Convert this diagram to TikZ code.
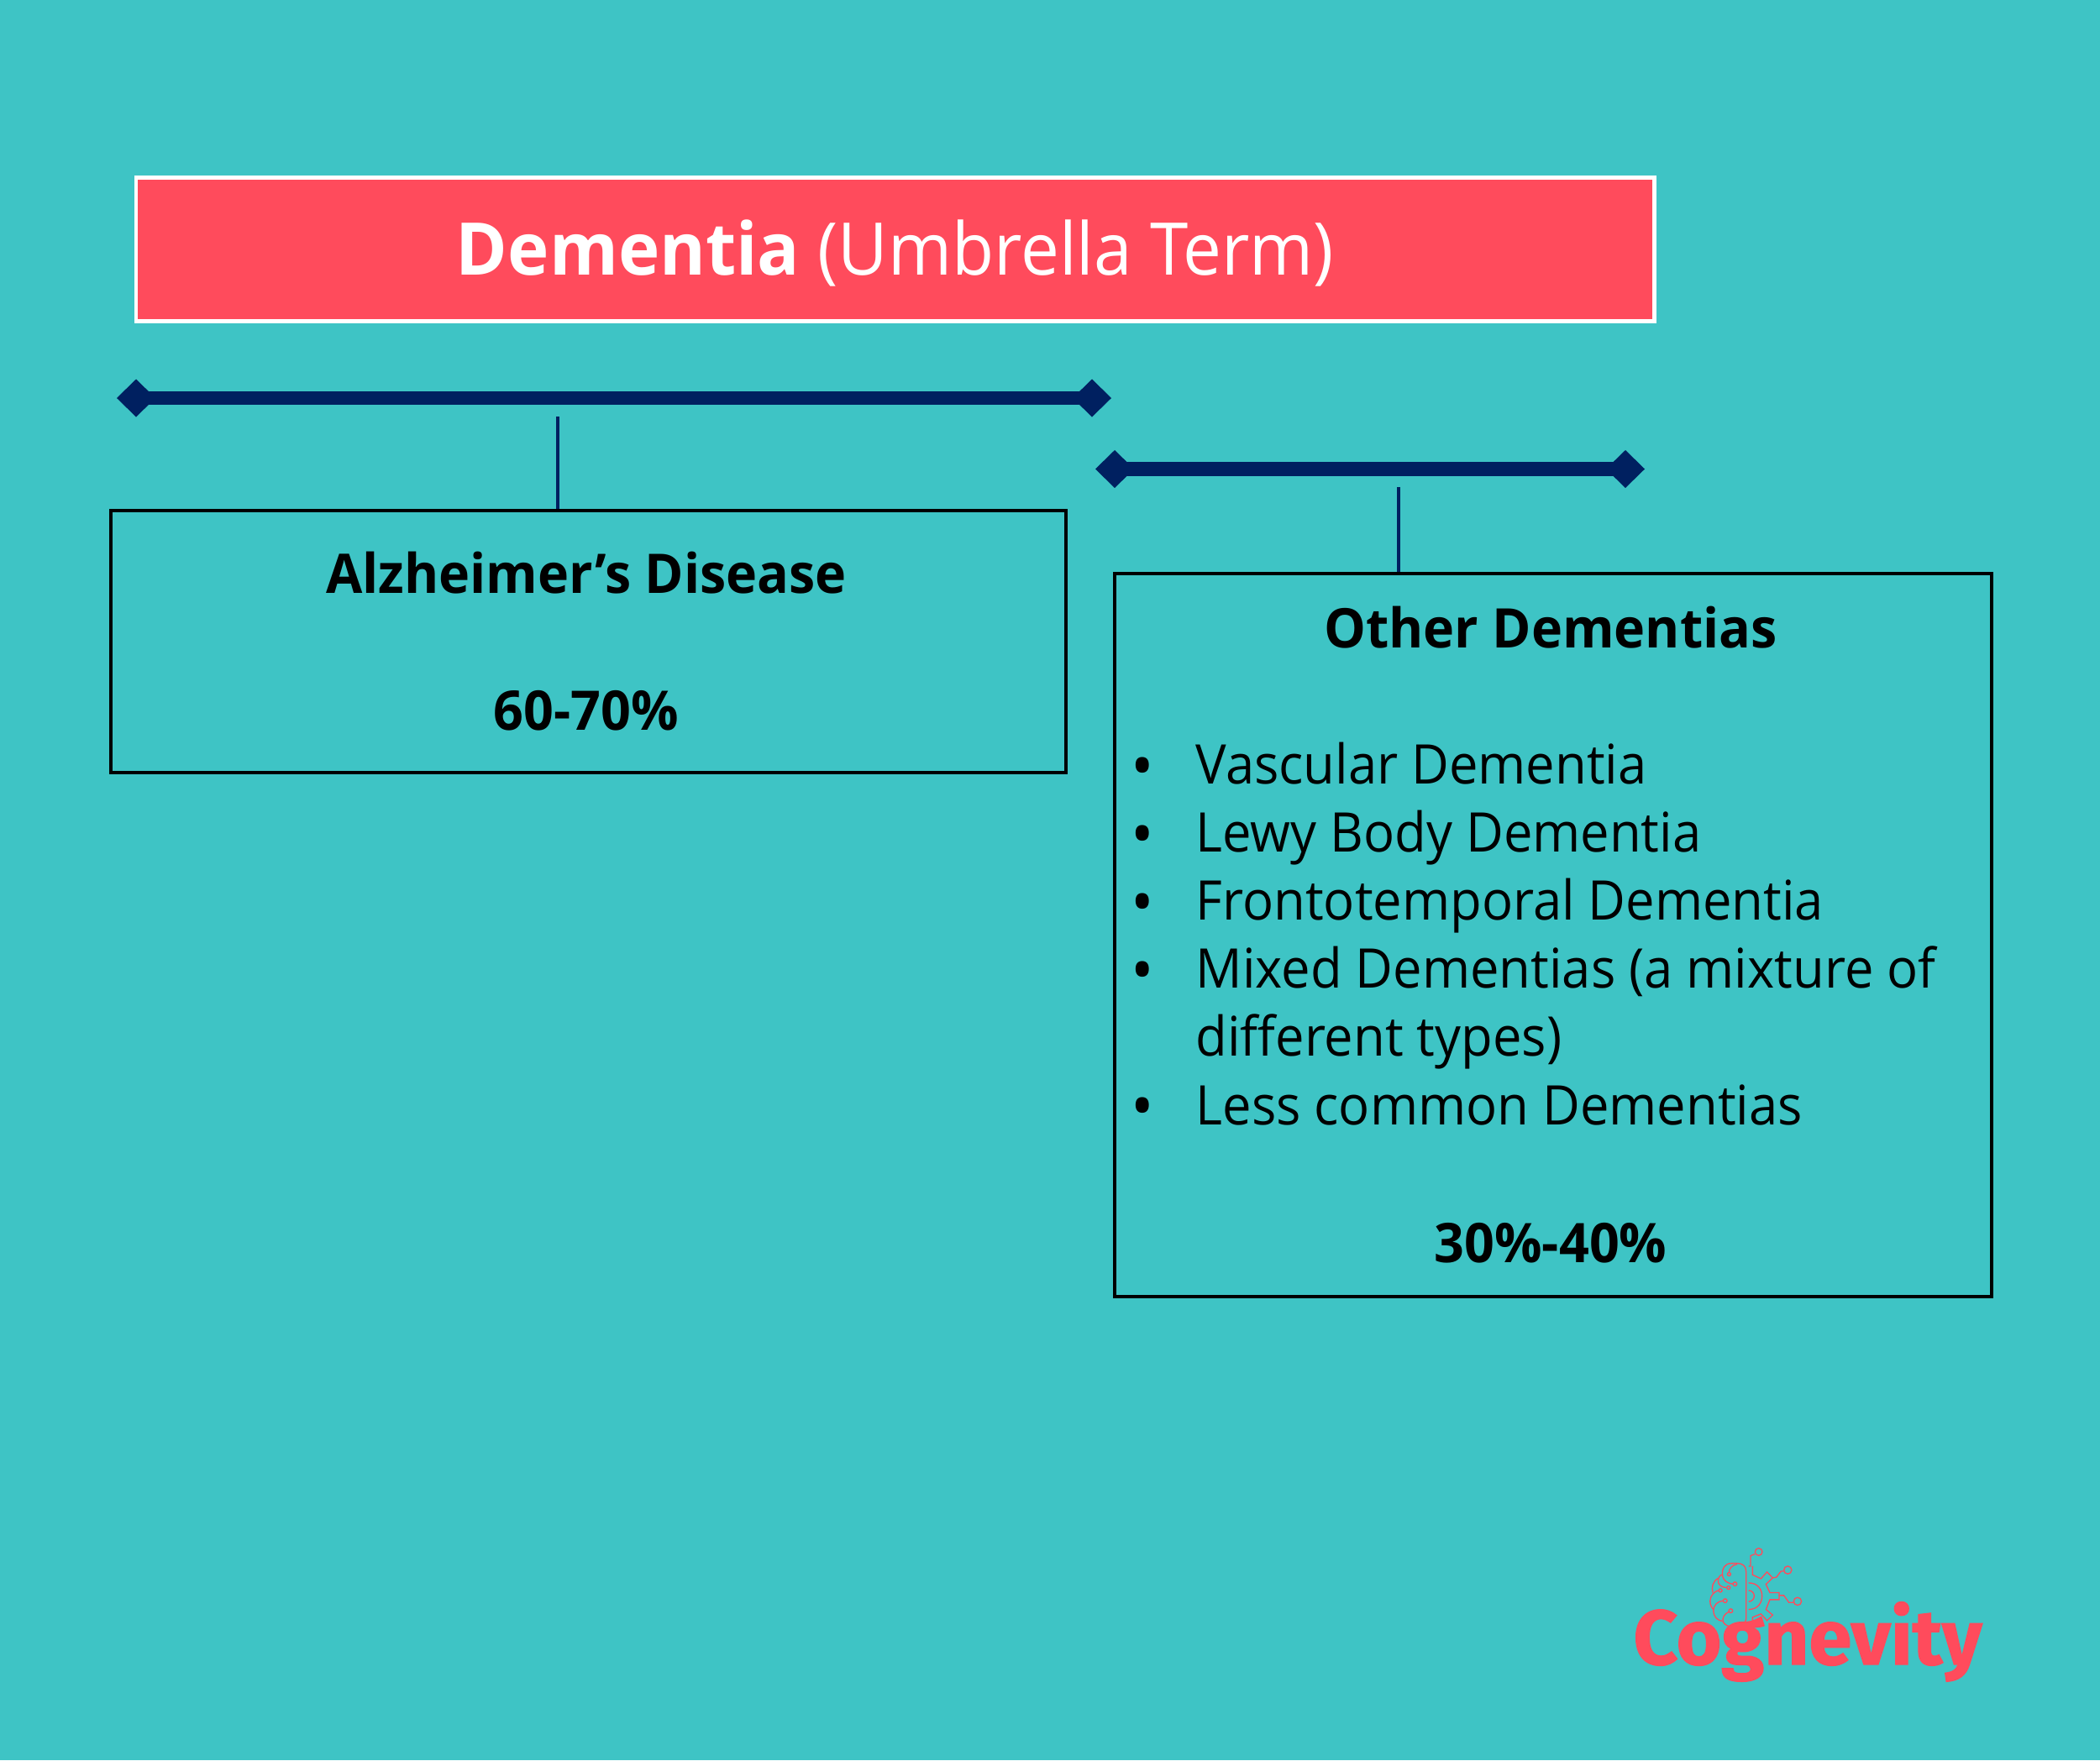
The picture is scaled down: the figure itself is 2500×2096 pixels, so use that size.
\documentclass[tikz,border=0pt]{standalone}
\usepackage{fontspec}
\setmainfont{Open Sans}[FakeStretch=0.945, BoldFeatures={FakeStretch=0.965}]
\newfontfamily\logofont{Fira Sans}[BoldFeatures={FakeBold=1.2}]
\usetikzlibrary{arrows.meta, positioning}
\definecolor{bgteal}{HTML}{3EC4C5}
\definecolor{titlered}{HTML}{FF4B5C}
\definecolor{barnavy}{HTML}{002060}
\newcommand{\bodyfont}{\fontsize{18.5}{23.05}\selectfont}
\newcommand{\bul}{\llap{\raisebox{-1.6pt}{\fontsize{22}{23}\selectfont\textbullet}\hspace{0.5cm}}}
\begin{document}
\begin{tikzpicture}[auto, x=0.01cm, y=-0.01cm]
            \tikzstyle{block} = [draw=black, line width=1.2pt, rectangle, inner sep=0pt]
            \tikzstyle{head} = [draw=white, line width=1.4pt, fill=titlered, rectangle, text=white,
                minimum width=18.06cm, minimum height=1.71cm, text height=0.72cm, text depth=0.12cm,
                font=\fontsize{24.6}{30}\selectfont]
            \tikzstyle{label} = [inner sep=0pt, anchor=base, font=\bodyfont\bfseries]
            \tikzstyle{bar} = [barnavy, line width=4.6pt,
                {Diamond[length=0.46cm,width=0.45cm]}-{Diamond[length=0.46cm,width=0.45cm]}]
            \tikzstyle{stem} = [barnavy, line width=1.1pt]
            \tikzstyle{logo} = [titlered, line width=0.38pt]
            \useasboundingbox (0,0) rectangle (2500,2096);
            \fill [bgteal] (0,0) rectangle (2500,2096);

            \node [head] (title) at (1065.5,297) {\textbf{Dementia} (Umbrella Term)};

            \coordinate (leftA) at (139,474);
            \coordinate (leftB) at (1323,474);
            \coordinate (rightA) at (1304,558.5);
            \coordinate (rightB) at (1958,558.5);
            \coordinate (alzstub) at (664,496);
            \coordinate (otherstub) at (1665,580);
            \draw [bar] (leftA) -- (leftB);
            \draw [bar] (rightA) -- (rightB);

            \node [block, minimum width=11.365cm, minimum height=3.115cm] (alz) at (700.2,764) {};
            \node [block, minimum width=10.44cm, minimum height=8.60cm] (other) at (1849,1113.5) {};
            \draw [stem] (alzstub) -- (alzstub |- alz.north);
            \draw [stem] (otherstub) -- (otherstub |- other.north);

            \node [label] (alzname) at (698,706) {Alzheimer’s Disease};
            \node [label] (alzpct) at (698,869) {60-70\%};
            \node [label] (othername) at (1846,771) {Other Dementias};
            \node [label] (otherpct) at (1846,1503) {30\%-40\%};
            \node [inner sep=0pt, anchor=base west, align=left, font=\bodyfont] (otherlist) at (1423,1339) {%
                \bul Vascular Dementia\\
                \bul Lewy Body Dementia\\
                \bul Frontotemporal Dementia\\
                \bul Mixed Dementias (a mixture of\\
                different types)\\
                \bul Less common Dementias};

            % logo
            \begin{scope}[shift={(1880,1800)}, x=0.003333cm, y=-0.003333cm, logo]
                \draw (620,195) -- (620,226) -- (650,240) -- (672,216) -- (692,237) -- (668,260)
                    -- (682,290) -- (715,290) -- (715,315) -- (682,315) -- (668,350) -- (692,370)
                    -- (672,390) -- (650,366) -- (620,378) -- (620,405);
                \draw (606,255) .. controls (640,255) and (654,280) .. (654,302)
                    .. controls (654,325) and (640,350) .. (606,350);
                \draw (606,282) .. controls (618,282) and (626,292) .. (626,302)
                    .. controls (626,312) and (618,322) .. (606,322);
                \draw (606,195) -- (613,195) -- (613,158) -- (628,152);
                \draw (642,144) circle (13);
                \draw (692,237) -- (705,235) -- (722,213) -- (732,213);
                \draw (746,209) circle (14);
                \draw (715,300) -- (732,300) -- (750,325) -- (766,325);
                \draw (781,321) circle (14);
                \draw (597,385) -- (597,215) .. controls (597,195) and (585,185) .. (565,185)
                    -- (545,185) .. controls (520,185) and (510,205) .. (512,225)
                    .. controls (514,250) and (535,258) .. (550,259);
                \draw (557,259) circle (7);
                \draw (536,224) circle (6);
                \draw (536,217) .. controls (536,205) and (545,192) .. (565,188);
                \draw (512,225) .. controls (500,228) and (497,240) .. (497,250)
                    .. controls (497,262) and (510,272) .. (527,272);
                \draw (534,272) circle (6);
                \draw (497,238) .. controls (478,250) and (472,270) .. (478,290);
                \draw (505,282) circle (6);
                \draw (498,282) .. controls (485,285) and (468,300) .. (468,320)
                    .. controls (468,335) and (475,345) .. (480,350);
                \draw (522,319) circle (7);
                \draw (515,319) .. controls (495,320) and (480,335) .. (480,355)
                    .. controls (480,375) and (495,390) .. (512,392);
                \draw (542,355) circle (7);
                \draw (536,358) .. controls (520,365) and (510,380) .. (515,395)
                    .. controls (520,405) and (535,412) .. (545,412)
                    .. controls (570,412) and (597,405) .. (597,385);
            \end{scope}
            \node [inner sep=0pt, anchor=base, text=titlered, font=\logofont\fontsize{26.2}{30}\selectfont\bfseries] (brand) at (2152,1982) {Cognevity};
\end{tikzpicture}
\end{document}
